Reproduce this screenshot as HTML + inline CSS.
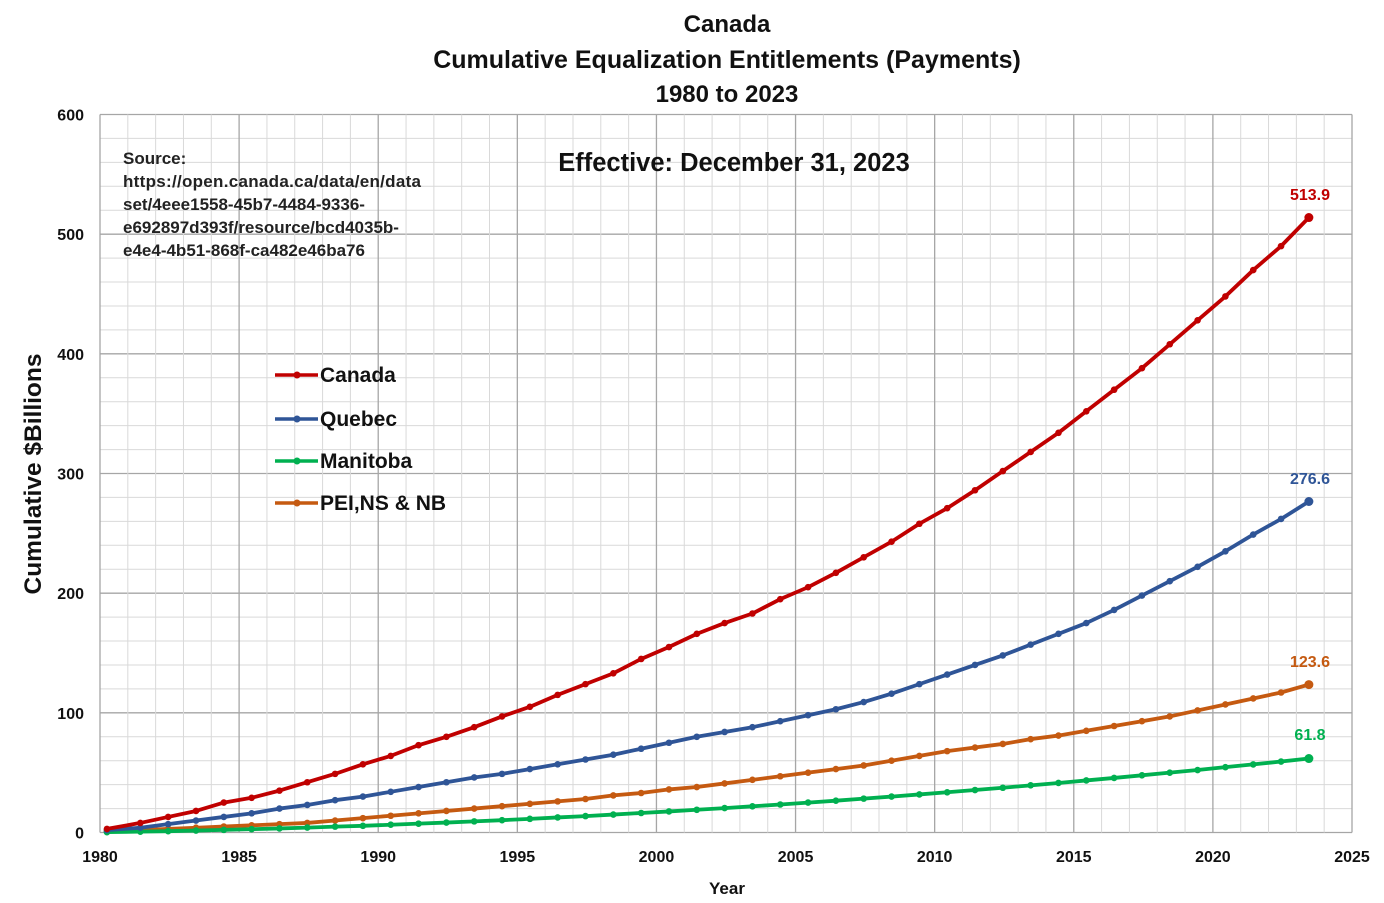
<!DOCTYPE html>
<html><head><meta charset="utf-8"><style>body{margin:0;background:#fff}svg{display:block}text{font-family:"Liberation Sans",sans-serif;font-weight:bold}</style></head><body>
<svg id="s" width="1384" height="903" xmlns="http://www.w3.org/2000/svg">
<g id="grid"></g>
<text x="727" y="32" font-size="24" text-anchor="middle" fill="#111">Canada</text>
<text x="727" y="68" font-size="25" text-anchor="middle" fill="#111">Cumulative Equalization Entitlements (Payments)</text>
<text x="727" y="102" font-size="24" text-anchor="middle" fill="#111">1980 to 2023</text>
<text x="734" y="171" font-size="25.5" text-anchor="middle" fill="#111">Effective: December 31, 2023</text>
<g font-size="17" fill="#222">
<text x="123" y="164">Source:</text>
<text x="123" y="187" textLength="298">https://open.canada.ca/data/en/data</text>
<text x="123" y="210">set/4eee1558-45b7-4484-9336-</text>
<text x="123" y="233">e692897d393f/resource/bcd4035b-</text>
<text x="123" y="256">e4e4-4b51-868f-ca482e46ba76</text>
</g>
<text transform="translate(41,474) rotate(-90)" font-size="24.5" text-anchor="middle" fill="#111">Cumulative $Billions</text>
<text x="727" y="894" font-size="17" text-anchor="middle" fill="#111">Year</text>
<g id="series"></g>
<g font-size="21" fill="#111">
<line x1="275" y1="375" x2="318" y2="375" stroke="#c00000" stroke-width="3.5"/><circle cx="297" cy="375" r="3.5" fill="#c00000"/><text x="320" y="382">Canada</text>
<line x1="275" y1="419" x2="318" y2="419" stroke="#2f5597" stroke-width="3.5"/><circle cx="297" cy="419" r="3.5" fill="#2f5597"/><text x="320" y="426">Quebec</text>
<line x1="275" y1="461" x2="318" y2="461" stroke="#00b050" stroke-width="3.5"/><circle cx="297" cy="461" r="3.5" fill="#00b050"/><text x="320" y="468">Manitoba</text>
<line x1="275" y1="503" x2="318" y2="503" stroke="#c55a11" stroke-width="3.5"/><circle cx="297" cy="503" r="3.5" fill="#c55a11"/><text x="320" y="510">PEI,NS &amp; NB</text>
</g>
<g font-size="16">
<text x="1310" y="200" text-anchor="middle" fill="#c00000">513.9</text>
<text x="1310" y="484" text-anchor="middle" fill="#2f5597">276.6</text>
<text x="1310" y="667" text-anchor="middle" fill="#c55a11">123.6</text>
<text x="1310" y="740" text-anchor="middle" fill="#00b050">61.8</text>
</g>
</svg>
<script>
const L=100,R=1352,T=114.5,B=832.5;
const X=y=>L+(y-1980)*(R-L)/45, Y=v=>B-v*(B-T)/600;
let g='';
for(let v=0;v<=600;v+=20){const y=Y(v);g+=`<line x1="${L}" x2="${R}" y1="${y}" y2="${y}" stroke="${v%100?'#d9d9d9':'#a6a6a6'}" stroke-width="${v%100?1:1.3}"/>`;
 if(v%100==0)g+=`<text x="84" y="${y+6}" font-size="16" text-anchor="end" fill="#111">${v}</text>`;}
for(let yr=1980;yr<=2025;yr++){const x=X(yr);g+=`<line y1="${T}" y2="${B}" x1="${x}" x2="${x}" stroke="${yr%5?'#d9d9d9':'#a6a6a6'}" stroke-width="${yr%5?1:1.3}"/>`;
 if(yr%5==0)g+=`<text x="${x}" y="862" font-size="16" text-anchor="middle" fill="#111">${yr}</text>`;}
document.getElementById('grid').innerHTML=g;
const can=[3,8,13,18,25,29,35,42,49,57,64,73,80,88,97,105,115,124,133,145,155,166,175,183,195,205,217,230,243,258,271,286,302,318,334,352,370,388,408,428,448,470,490,513.9];
const que=[2,4,7,10,13,16,20,23,27,30,34,38,42,46,49,53,57,61,65,70,75,80,84,88,93,98,103,109,116,124,132,140,148,157,166,175,186,198,210,222,235,249,262,276.6];
const pei=[1,2,3,4,5,6,7,8,10,12,14,16,18,20,22,24,26,28,31,33,36,38,41,44,47,50,53,56,60,64,68,71,74,78,81,85,89,93,97,102,107,112,117,123.6];
const man=[];for(let i=0;i<44;i++){const t=i/43;man.push(+(0.3+16*t+45.5*t*t).toFixed(1));}man[43]=61.8;
const xs=i=>X(i==0?1980.25:1980+i+0.45);
let s='';
[[pei,'#c55a11'],[man,'#00b050'],[que,'#2f5597'],[can,'#c00000']].forEach(([d,c])=>{
 s+=`<polyline fill="none" stroke="${c}" stroke-width="3.8" stroke-linejoin="round" points="${d.map((v,i)=>xs(i)+','+Y(v)).join(' ')}"/>`;
 d.forEach((v,i)=>s+=`<circle cx="${xs(i)}" cy="${Y(v)}" r="${i==43?4.5:3.3}" fill="${c}"/>`);
});
document.getElementById('series').innerHTML=s;
</script>
</body></html>
